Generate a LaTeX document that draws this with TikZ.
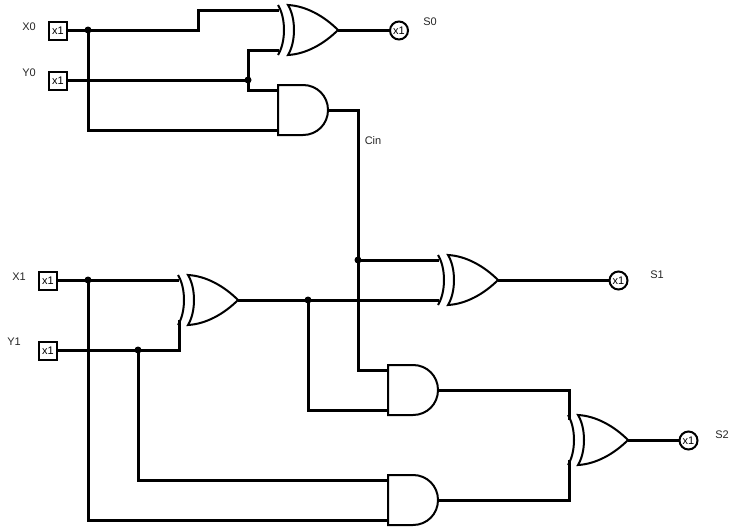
\documentclass[tikz,border=0pt]{standalone}
\usepackage{fontspec}
\setmainfont{Liberation Sans}
\newcommand{\lowtag}{\raisebox{-1.5pt}{x1}}
\tikzset{
  wire/.style={line width=3pt,line join=miter,line cap=butt},
  outline/.style={line width=2pt,line join=miter},
  dot/.style={circle,fill=black,draw=none,inner sep=0pt,minimum size=7pt},
  lbl/.style={font=\fontsize{11}{12}\selectfont,inner sep=0pt,text=black!85},
  inbox/.style={draw,line width=2pt,fill=white,minimum size=18pt,inner sep=0pt,font=\fontsize{11}{12}\selectfont},
  outcirc/.style={circle,draw,line width=2pt,fill=white,minimum size=18pt,inner sep=0pt,font=\fontsize{11}{12}\selectfont},
  xorgate/.pic={
    \draw[outline] (0,-25) .. controls (8,-12) and (8,12) .. (0,25);
    \draw[outline] (10,-25) .. controls (18,-12) and (18,12) .. (10,25)
      .. controls (28,24) and (46,14) .. (60,0)
      .. controls (46,-14) and (28,-24) .. (10,-25) -- cycle;
    \coordinate (-a) at (1,-20);
    \coordinate (-b) at (1,20);
    \coordinate (-o) at (60,0);
  },
  andgate/.pic={
    \draw[outline] (25,-25) -- (0,-25) -- (0,25) -- (25,25)
      .. controls (39,25) and (50,14) .. (50,0)
      .. controls (50,-14) and (39,-25) .. (25,-25) -- cycle;
    \coordinate (-a) at (0,-20);
    \coordinate (-b) at (0,20);
    \coordinate (-o) at (50,0);
  }
}
\begin{document}
\begin{tikzpicture}[x=1pt,y=-1pt]
\useasboundingbox[fill=white] (0,0) rectangle (739,530);
% gates
\pic (g1) at (278,30) {xorgate};
\pic (a1) at (278,110) {andgate};
\pic (g2) at (178,300) {xorgate};
\pic (g3) at (438,280) {xorgate};
\pic (a2) at (388,390) {andgate};
\pic (a3) at (388,500) {andgate};
\pic (g4) at (568,440) {xorgate};
% terminals
\node[inbox] (x0) at (58,30.5) {\lowtag};
\node[inbox] (y0) at (58,80.5) {\lowtag};
\node[inbox] (x1) at (48,280.5) {\lowtag};
\node[inbox] (y1) at (48,350.5) {\lowtag};
\node[outcirc] (s0) at (399,30.5) {\lowtag};
\node[outcirc] (s1) at (618.5,280.5) {\lowtag};
\node[outcirc] (s2) at (688.5,440.5) {\lowtag};
% junctions
\node[dot] (j1) at (88,30) {};
\node[dot] (j2) at (248,80) {};
\node[dot] (j3) at (358,260) {};
\node[dot] (j4) at (88,280) {};
\node[dot] (j5) at (138,350) {};
\node[dot] (j6) at (308,300) {};
% wires, top half
\draw[wire] (x0.east |- j1) -- (j1.center) -- (198,30) -- (198,10) -- (g1-a);
\draw[wire] (y0.east |- j2) -- (j2.center);
\draw[wire] (j2.center) |- (g1-b);
\draw[wire] (j2.center) |- (a1-a);
\draw[wire] (j1.center) |- (a1-b);
\draw[wire] (g1-o) -- (s0.west |- g1-o);
\draw[wire] (a1-o) -| (j3.center);
% wires, lower half
\draw[wire] (x1.east |- j4) -- (j4.center) -- (g2-a);
\draw[wire] (y1.east |- j5) -- (j5.center) -| (g2-b);
\draw[wire] (g2-o) -- (j6.center) -- (g3-b);
\draw[wire] (j3.center) -- (g3-a);
\draw[wire] (g3-o) -- (s1.west |- g3-o);
\draw[wire] (j3.center) |- (a2-a);
\draw[wire] (j6.center) |- (a2-b);
\draw[wire] (j5.center) |- (a3-a);
\draw[wire] (j4.center) |- (a3-b);
\draw[wire] (a2-o) -| (g4-a);
\draw[wire] (a3-o) -| (g4-b);
\draw[wire] (g4-o) -- (s2.west |- g4-o);
% labels
\node[lbl] (lx0) at (29,27) {X0};
\node[lbl] (ly0) at (29,73) {Y0};
\node[lbl] (ls0) at (430,22) {S0};
\node[lbl] (lcin) at (373,141) {Cin};
\node[lbl] (lx1) at (19,277) {X1};
\node[lbl] (ly1) at (14,342) {Y1};
\node[lbl] (ls1) at (657,275) {S1};
\node[lbl] (ls2) at (722,435) {S2};
\end{tikzpicture}
\end{document}
